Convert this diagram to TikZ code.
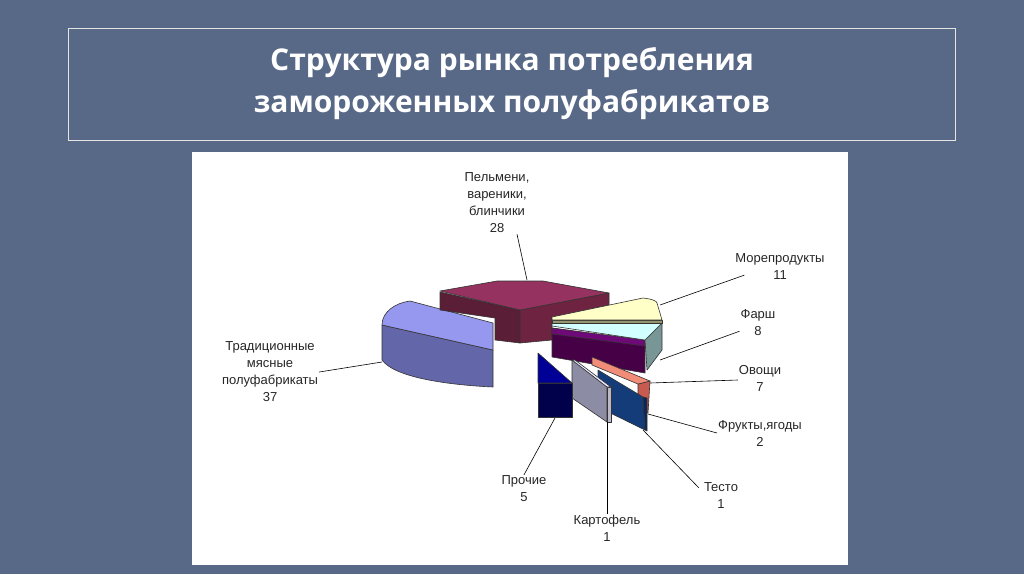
\documentclass[tikz,border=0pt]{standalone}
\usepackage{fontspec}
\setmainfont{Liberation Sans}
\newfontfamily\titlefont{Open Sans}
\begin{document}
\begin{tikzpicture}[x=1pt,y=-1pt,
  lbl/.style={font=\fontsize{13}{17}\selectfont,align=center,text=black!85,inner sep=1pt},
  face/.style={draw=black!80,line width=0.6pt,line join=round},
  lead/.style={draw=black,line width=0.6pt}]
\fill[fill={rgb,255:red,88;green,104;blue,135}] (0,0) rectangle (1024,574);
\useasboundingbox (0,0) rectangle (1024,574);
\draw[white!80!gray,line width=0.8pt] (68,28) rectangle (955,140);
\node[text=white,font=\titlefont\bfseries\fontsize{30}{42}\selectfont,align=center] (title) at (512,84) {Структура рынка потребления\\замороженных полуфабрикатов};
\fill[white] (192,152) rectangle (848,565);
% Traditional (lavender)
\draw[face,fill={rgb,255:red,100;green,102;blue,170}] (382,325) -- (382,360) .. controls (395,378) and (450,385) .. (493,387) -- (493,350) -- cycle;
\draw[face,fill={rgb,255:red,150;green,152;blue,240}] (382,325) .. controls (382,312) and (395,303) .. (410,301) -- (493,323) -- (493,350) -- cycle;
% Pelmeni (maroon)
\draw[face,fill={rgb,255:red,90;green,30;blue,55}] (440,292) -- (520,310) -- (520,343) -- (495,340) -- (495,318) -- (440,310) -- cycle;
\draw[face,fill={rgb,255:red,110;green,35;blue,65}] (520,310) -- (609,293) -- (609,305) -- (552,318) -- (552,340) -- (520,343) -- cycle;
\draw[face,fill={rgb,255:red,150;green,50;blue,95}] (440,291) -- (497,281) -- (543,281) -- (609,293) -- (520,310) -- cycle;
% Farsh (purple)
\draw[face,fill={rgb,255:red,70;green,0;blue,70}] (552,328) -- (645,342) -- (645,373) -- (552,357) -- cycle;
\draw[face,fill={rgb,255:red,110;green,10;blue,120}] (552,328) -- (645,340) -- (645,346) -- (552,334) -- cycle;
% Moreprodukty side and cyan
\draw[face,fill={rgb,255:red,120;green,150;blue,150}] (645,340) -- (662,323) -- (662,350) -- (647,370) -- cycle;
\draw[face,fill={rgb,255:red,210;green,255;blue,255}] (552,323) -- (662,323) -- (650,335) -- (645,340) -- (552,326) -- cycle;
\draw[face,fill={rgb,255:red,150;green,150;blue,110}] (552,320) -- (662,320) -- (662,323) -- (552,323) -- cycle;
\draw[face,fill={rgb,255:red,255;green,255;blue,200}] (552,317) -- (643,298) .. controls (652,299) and (657,301) .. (657,303) -- (662,320) -- (552,320) -- cycle;
% Ovoshchi (salmon)
\draw[face,fill={rgb,255:red,200;green,90;blue,80}] (638,384) -- (650,381) -- (648,413) -- (638,411) -- cycle;
\draw[face,fill={rgb,255:red,240;green,140;blue,120}] (592,357) -- (650,381) -- (638,384) -- (592,365) -- cycle;
% Frukty (blue)
\draw[face,fill={rgb,255:red,20;green,60;blue,120}] (598,370) -- (643,397) -- (645,430) -- (598,407) -- cycle;
\draw[face,fill={rgb,255:red,10;green,40;blue,90}] (643,397) -- (647,398) -- (647,431) -- (645,430) -- cycle;
% Kartofel (gray)
\draw[face,fill={rgb,255:red,140;green,140;blue,165}] (572,360) -- (607,387) -- (607,422) -- (572,398) -- cycle;
\draw[face,fill={rgb,255:red,185;green,185;blue,200}] (607,387) -- (611,387) -- (611,422) -- (607,422) -- cycle;
\draw[face,fill={rgb,255:red,235;green,235;blue,255}] (572,360) -- (575,360) -- (611,387) -- (607,387) -- cycle;
% Prochie (navy)
\draw[face,fill={rgb,255:red,0;green,0;blue,75}] (538,383) -- (572,383) -- (572,417) -- (538,417) -- cycle;
\draw[face,fill={rgb,255:red,0;green,0;blue,150}] (538,353) -- (572,383) -- (538,383) -- cycle;
% labels
\node[lbl] (pel) at (497,203) {Пельмени,\\вареники,\\блинчики\\28};
\node[lbl] (mor) at (780,267) {Морепродукты\\11};
\node[lbl] (far) at (758,323) {Фарш\\8};
\node[lbl] (ovo) at (760,378) {Овощи\\7};
\node[lbl] (fru) at (760,433) {Фрукты,ягоды\\2};
\node[lbl] (tes) at (721,496) {Тесто\\1};
\node[lbl] (kar) at (607,528) {Картофель\\1};
\node[lbl] (pro) at (524,489) {Прочие\\5};
\node[lbl] (tra) at (270,372) {Традиционные\\мясные\\полуфабрикаты\\37};
\coordinate (cpel) at (527,280);
\coordinate (cmor) at (660,305);
\coordinate (cfar) at (660,360);
\coordinate (covo) at (650,383);
\coordinate (cfru) at (648,414);
\coordinate (ctes) at (643,430);
\coordinate (ckar) at (607,422);
\coordinate (cpro) at (555,418);
\coordinate (ctra) at (382,362);
\draw[lead] (pel.south) ++(20,0) -- (cpel);
\draw[lead] (mor.south west) ++(10,-6) -- (cmor);
\draw[lead] (far.south west) ++(0,-6) -- (cfar);
\draw[lead] (ovo.west) ++(0,2) -- (covo);
\draw[lead] (fru.west) -- (cfru);
\draw[lead] (tes.north west) ++(-4,6) -- (ctes);
\draw[lead] (kar.north) -- (ckar);
\draw[lead] (pro.north) -- (cpro);
\draw[lead] (tra.east) -- (ctra);
\end{tikzpicture}
\end{document}
